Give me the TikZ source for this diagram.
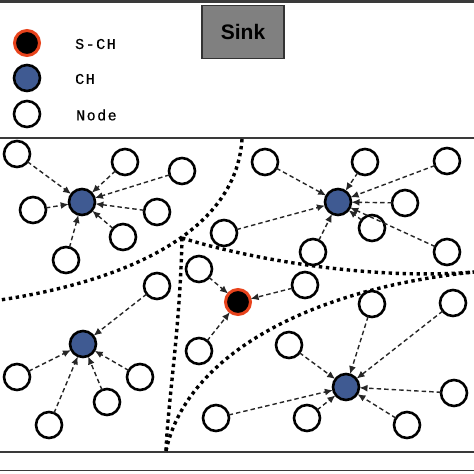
\documentclass[tikz,border=0pt]{standalone}
\usepackage{fontspec}
\setmainfont{Liberation Sans}
\newfontfamily\monofnt[LetterSpace=10,FakeBold=0.6]{Liberation Mono}
\usetikzlibrary{arrows.meta}
\definecolor{chblue}{HTML}{3F5A92}
\definecolor{schred}{HTML}{E8431C}
\definecolor{sinkgray}{HTML}{808080}
\definecolor{rulegray}{HTML}{3A3A3A}
\tikzset{
  wnode/.style={circle,draw=black,fill=white,line width=2.6pt,minimum size=26pt,inner sep=0pt,outer sep=0pt},
  chnode/.style={wnode,fill=chblue},
  schnode/.style={circle,draw=schred,fill=black,line width=3pt,minimum size=25pt,inner sep=0pt,outer sep=0pt},
  arr/.style={draw=black!85,line width=1.4pt,dash pattern=on 4.5pt off 3pt,-{Latex[length=8pt,width=7pt]},shorten >=0.5pt},
  border/.style={draw=rulegray,line width=1.8pt},
  zone/.style={draw=black,line width=3.4pt,dash pattern=on 3.4pt off 3.6pt},
  legtext/.style={anchor=west,font=\monofnt\fontsize{15}{15}\selectfont,inner sep=0pt},
}
\begin{document}
\begin{tikzpicture}[x=1pt,y=-1pt]
\useasboundingbox (0,0) rectangle (474,474);
% borders
\draw[border,line width=3pt] (0,1) -- (474,1);
\draw[border] (0,138) -- (474,138);
\draw[border] (0,452) -- (474,452);
\draw[border] (0,470.5) -- (474,470.5);
% zone boundaries
\draw[zone] (242,139) .. controls (236,235) and (120,282) .. (0,300);
\draw[zone] (182,238) .. controls (180,330) and (168,400) .. (166,451);
\draw[zone] (182,238) .. controls (260,262) and (380,280) .. (474,272);
\draw[zone] (166,451) .. controls (185,360) and (300,290) .. (474,272);
% legend
\node[schnode] (ls) at (27,43) {};
\node[chnode] (lc) at (27,78) {};
\node[wnode] (ln) at (27,114) {};
\node[legtext] (lst) at (75,44) {S-CH};
\node[legtext] (lct) at (75,79) {CH};
\node[legtext] (lnt) at (76,115) {Node};
% sink
\node[draw=black!80,fill=sinkgray,line width=1.5pt,minimum width=82pt,minimum height=53pt,inner sep=0pt,font=\bfseries\fontsize{21}{21}\selectfont] (sink) at (243,32) {Sink};
% cluster heads
\node[chnode] (c1) at (82,202) {};
\node[chnode] (c2) at (338,202) {};
\node[chnode] (c3) at (83,344) {};
\node[chnode] (c4) at (346,387) {};
\node[schnode] (s) at (238,302) {};
% nodes cluster 1
\node[wnode] (a1) at (17,154) {};
\node[wnode] (a2) at (125,162) {};
\node[wnode] (a3) at (182,171) {};
\node[wnode] (a4) at (33,210) {};
\node[wnode] (a5) at (157,212) {};
\node[wnode] (a6) at (123,237) {};
\node[wnode] (a7) at (66,260) {};
% nodes cluster 2
\node[wnode] (b1) at (265,162) {};
\node[wnode] (b2) at (365,162) {};
\node[wnode] (b3) at (447,161) {};
\node[wnode] (b4) at (405,203) {};
\node[wnode] (b5) at (372,228) {};
\node[wnode] (b6) at (313,252) {};
\node[wnode] (b7) at (447,252) {};
\node[wnode] (b8) at (224,233) {};
% nodes S-CH
\node[wnode] (s1) at (199,269) {};
\node[wnode] (s2) at (305,285) {};
\node[wnode] (s3) at (199,351) {};
% nodes cluster 3
\node[wnode] (d1) at (157,286) {};
\node[wnode] (d2) at (17,377) {};
\node[wnode] (d3) at (140,377) {};
\node[wnode] (d4) at (107,402) {};
\node[wnode] (d5) at (49,425) {};
% nodes cluster 4
\node[wnode] (e1) at (289,345) {};
\node[wnode] (e2) at (372,304) {};
\node[wnode] (e3) at (453,303) {};
\node[wnode] (e4) at (454,393) {};
\node[wnode] (e5) at (407,425) {};
\node[wnode] (e6) at (307,418) {};
\node[wnode] (e7) at (216,418) {};
% arrows
\foreach \n in {a1,a2,a3,a4,a5,a6,a7} \draw[arr] (\n) -- (c1);
\foreach \n in {b1,b2,b3,b4,b5,b6,b7,b8} \draw[arr] (\n) -- (c2);
\foreach \n in {s1,s2,s3} \draw[arr] (\n) -- (s);
\foreach \n in {d1,d2,d3,d4,d5} \draw[arr] (\n) -- (c3);
\foreach \n in {e1,e2,e3,e4,e5,e6,e7} \draw[arr] (\n) -- (c4);
\end{tikzpicture}
\end{document}
